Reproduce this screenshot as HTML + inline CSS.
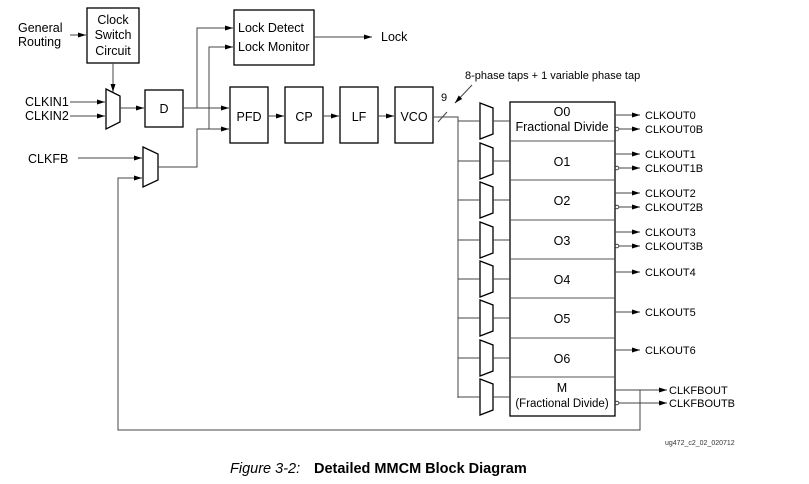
<!DOCTYPE html>
<html><head><meta charset="utf-8"><style>
html,body{margin:0;padding:0;background:#fff;}
svg{display:block;font-family:"Liberation Sans",Arial,sans-serif;}
</style></head><body>
<svg width="809" height="484" viewBox="0 0 809 484" xmlns="http://www.w3.org/2000/svg">
<defs>
<marker id="a" markerWidth="8" markerHeight="6" refX="8" refY="3" orient="auto" markerUnits="userSpaceOnUse">
<path d="M0,0.5 L8,3 L0,5.5 z" fill="#000"/></marker>
</defs>
<g fill="none" stroke="#000" stroke-width="1.3">
<rect x="87" y="8" width="52" height="55"/>
<rect x="145" y="90" width="38" height="37"/>
<rect x="234" y="10" width="80" height="55"/>
<rect x="230" y="87" width="38" height="56"/>
<rect x="285" y="87" width="38" height="56"/>
<rect x="340" y="87" width="38" height="56"/>
<rect x="395" y="87" width="38" height="56"/>
<rect x="510" y="102" width="105" height="314"/>
<path d="M106,89 L120,96 L120,122 L106,129 Z"/>
<path d="M143,147 L158,154 L158,180 L143,187 Z"/>
</g>
<g fill="none" stroke="#555" stroke-width="1">
<line x1="510" y1="141" x2="615" y2="141"/>
<line x1="510" y1="180" x2="615" y2="180"/>
<line x1="510" y1="220" x2="615" y2="220"/>
<line x1="510" y1="259" x2="615" y2="259"/>
<line x1="510" y1="298" x2="615" y2="298"/>
<line x1="510" y1="338" x2="615" y2="338"/>
<line x1="510" y1="377" x2="615" y2="377"/>
</g>
<g fill="none" stroke="#000" stroke-width="1.3">
<path d="M480,103 L493,108 L493,134 L480,139 Z"/>
<path d="M480,143 L493,148 L493,174 L480,179 Z"/>
<path d="M480,182 L493,187 L493,213 L480,218 Z"/>
<path d="M480,222 L493,227 L493,253 L480,258 Z"/>
<path d="M480,261 L493,266 L493,292 L480,297 Z"/>
<path d="M480,300 L493,305 L493,331 L480,336 Z"/>
<path d="M480,340 L493,345 L493,371 L480,376 Z"/>
<path d="M480,379 L493,384 L493,410 L480,415 Z"/>
</g>
<g fill="none" stroke="#444" stroke-width="1">
<line x1="70" y1="35" x2="86" y2="35" marker-end="url(#a)"/>
<line x1="113" y1="63" x2="113" y2="92" marker-end="url(#a)"/>
<line x1="70" y1="102" x2="105" y2="102" marker-end="url(#a)"/>
<line x1="70" y1="116" x2="105" y2="116" marker-end="url(#a)"/>
<line x1="120" y1="108" x2="144" y2="108" marker-end="url(#a)"/>
<line x1="183" y1="108" x2="229" y2="108" marker-end="url(#a)"/>
<polyline points="197,108 197,28 233,28" marker-end="url(#a)"/>
<polyline points="209,129 209,47 233,47" marker-end="url(#a)"/>
<line x1="314" y1="37" x2="372" y2="37" marker-end="url(#a)"/>
<line x1="78" y1="158" x2="142" y2="158" marker-end="url(#a)"/>
<polyline points="158,167 197,167 197,129 229,129" marker-end="url(#a)"/>
<line x1="268" y1="116" x2="284" y2="116" marker-end="url(#a)"/>
<line x1="323" y1="116" x2="339" y2="116" marker-end="url(#a)"/>
<line x1="378" y1="116" x2="394" y2="116" marker-end="url(#a)"/>
<polyline points="433,117 458,117 458,398"/>
<line x1="438" y1="122" x2="447" y2="112"/>
<line x1="472" y1="85" x2="455" y2="103" marker-end="url(#a)"/>
<line x1="458" y1="121" x2="480" y2="121"/>
<line x1="458" y1="161" x2="480" y2="161"/>
<line x1="458" y1="200" x2="480" y2="200"/>
<line x1="458" y1="240" x2="480" y2="240"/>
<line x1="458" y1="279" x2="480" y2="279"/>
<line x1="458" y1="318" x2="480" y2="318"/>
<line x1="458" y1="358" x2="480" y2="358"/>
<line x1="458" y1="397" x2="480" y2="397"/>
<line x1="493" y1="121" x2="510" y2="121"/>
<line x1="493" y1="161" x2="510" y2="161"/>
<line x1="493" y1="200" x2="510" y2="200"/>
<line x1="493" y1="240" x2="510" y2="240"/>
<line x1="493" y1="279" x2="510" y2="279"/>
<line x1="493" y1="318" x2="510" y2="318"/>
<line x1="493" y1="358" x2="510" y2="358"/>
<line x1="493" y1="397" x2="510" y2="397"/>
<line x1="615" y1="115" x2="640" y2="115" marker-end="url(#a)"/>
<line x1="619" y1="129" x2="640" y2="129" marker-end="url(#a)"/>
<line x1="615" y1="154" x2="640" y2="154" marker-end="url(#a)"/>
<line x1="619" y1="168" x2="640" y2="168" marker-end="url(#a)"/>
<line x1="615" y1="193" x2="640" y2="193" marker-end="url(#a)"/>
<line x1="619" y1="207" x2="640" y2="207" marker-end="url(#a)"/>
<line x1="615" y1="232" x2="640" y2="232" marker-end="url(#a)"/>
<line x1="619" y1="246" x2="640" y2="246" marker-end="url(#a)"/>
<line x1="615" y1="272" x2="640" y2="272" marker-end="url(#a)"/>
<line x1="615" y1="312" x2="640" y2="312" marker-end="url(#a)"/>
<line x1="615" y1="350" x2="640" y2="350" marker-end="url(#a)"/>
<line x1="615" y1="390" x2="667" y2="390" marker-end="url(#a)"/>
<line x1="619" y1="403" x2="667" y2="403" marker-end="url(#a)"/>
<polyline points="640,390 640,430 118,430 118,178 142,178" marker-end="url(#a)"/>
<circle cx="617" cy="129" r="1.8"/>
<circle cx="617" cy="168" r="1.8"/>
<circle cx="617" cy="207" r="1.8"/>
<circle cx="617" cy="246" r="1.8"/>
<circle cx="617" cy="403" r="1.8"/>
</g>
<g font-size="12.5" fill="#000">
<text x="18" y="32">General</text>
<text x="18" y="46">Routing</text>
<text x="113" y="24" text-anchor="middle">Clock</text>
<text x="113" y="39" text-anchor="middle">Switch</text>
<text x="113" y="55" text-anchor="middle">Circuit</text>
<text x="25" y="106">CLKIN1</text>
<text x="25" y="120">CLKIN2</text>
<text x="28" y="163">CLKFB</text>
<text x="164" y="113" text-anchor="middle">D</text>
<text x="238" y="32">Lock Detect</text>
<text x="238" y="51">Lock Monitor</text>
<text x="381" y="41">Lock</text>
<text x="249" y="121" text-anchor="middle">PFD</text>
<text x="304" y="121" text-anchor="middle">CP</text>
<text x="359" y="121" text-anchor="middle">LF</text>
<text x="414" y="121" text-anchor="middle">VCO</text>
<text x="441" y="101" font-size="11">9</text>
<text x="465" y="79" font-size="11">8-phase taps + 1 variable phase tap</text>
<text x="562" y="116" text-anchor="middle">O0</text>
<text x="562" y="131" text-anchor="middle">Fractional Divide</text>
<text x="562" y="166" text-anchor="middle">O1</text>
<text x="562" y="205" text-anchor="middle">O2</text>
<text x="562" y="245" text-anchor="middle">O3</text>
<text x="562" y="284" text-anchor="middle">O4</text>
<text x="562" y="323" text-anchor="middle">O5</text>
<text x="562" y="363" text-anchor="middle">O6</text>
<text x="562" y="392" text-anchor="middle">M</text>
<text x="562" y="407" text-anchor="middle" font-size="11.5">(Fractional Divide)</text>
</g>
<g font-size="11" fill="#000">
<text x="645" y="119">CLKOUT0</text>
<text x="645" y="133">CLKOUT0B</text>
<text x="645" y="158">CLKOUT1</text>
<text x="645" y="172">CLKOUT1B</text>
<text x="645" y="197">CLKOUT2</text>
<text x="645" y="211">CLKOUT2B</text>
<text x="645" y="236">CLKOUT3</text>
<text x="645" y="250">CLKOUT3B</text>
<text x="645" y="276">CLKOUT4</text>
<text x="645" y="316">CLKOUT5</text>
<text x="645" y="354">CLKOUT6</text>
<text x="669" y="394">CLKFBOUT</text>
<text x="669" y="407">CLKFBOUTB</text>
</g>
<text x="665" y="445" font-size="7" fill="#333">ug472_c2_02_020712</text>
<text x="230" y="473" font-size="14.5" font-style="italic">Figure 3-2:</text>
<text x="314" y="473" font-size="14.5" font-weight="bold">Detailed MMCM Block Diagram</text>
</svg>
</body></html>
